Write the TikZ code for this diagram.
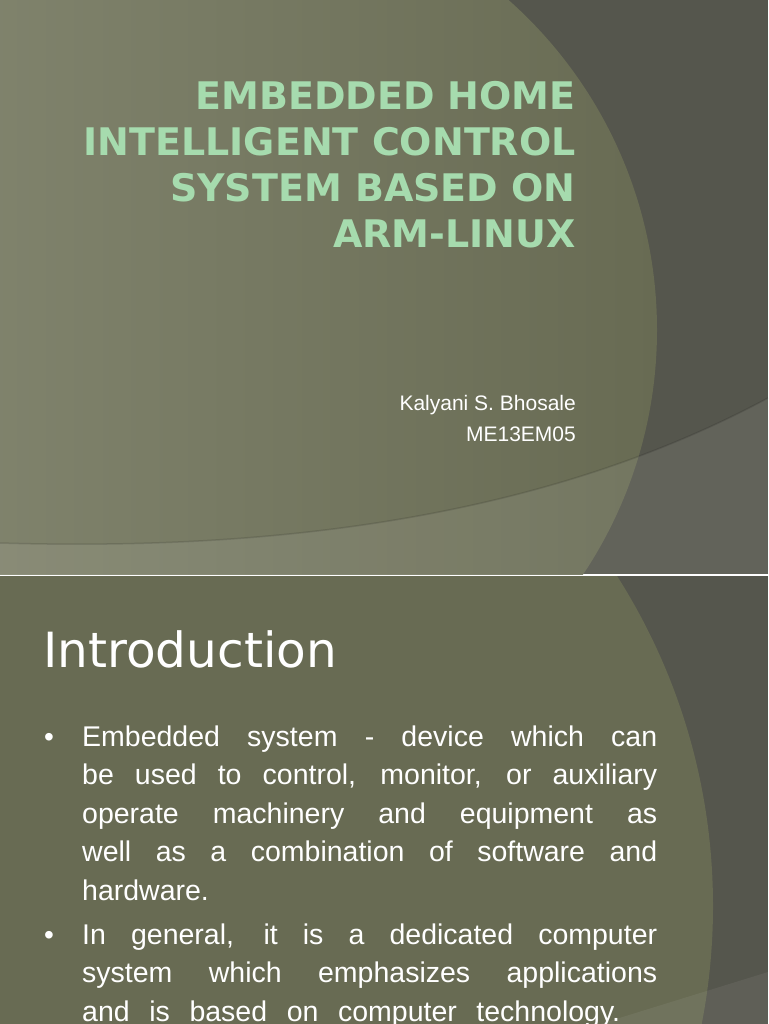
\documentclass[tikz,border=0pt]{standalone}
\usepackage{fontspec}
\setmainfont{Liberation Sans}
\newfontfamily\djv{DejaVu Sans}
\definecolor{darkbg}{HTML}{55564D}
\definecolor{olive}{HTML}{686B53}
\definecolor{oliveL}{HTML}{878A74}
\definecolor{titlegreen}{HTML}{A6DBAE}
\begin{document}
\begin{tikzpicture}[x=1pt,y=-1pt,
  txt/.style={text=white,inner sep=0pt},
  bul/.style={txt,anchor=base west,font=\fontsize{28.5}{38}\selectfont}]
\useasboundingbox (0,0) rectangle (768,1024);
% slide 1
\begin{scope}
\clip (0,0) rectangle (768,574);
\fill[darkbg] (0,0) rectangle (768,574);
\shade[left color=oliveL,right color=olive] (216,330) circle[radius=441];
\fill[white,opacity=0.08] (0,543) .. controls (300,552) and (560,510) .. (768,398) -- (768,574) -- (0,574) -- cycle;
\draw[black,opacity=0.12,line width=1.5] (0,543) .. controls (300,552) and (560,510) .. (768,398);
\end{scope}
\draw[white,opacity=0.12,line width=1.5] (0,574.5) -- (768,574.5);
% slide 2
\begin{scope}
\clip (0,576) rectangle (768,1024);
\fill[darkbg] (0,576) rectangle (768,1024);
\fill[olive] (98,906) circle[radius=615];
\fill[white,opacity=0.06] (768,972) -- (600,1024) -- (768,1024) -- cycle;
\end{scope}
% texts
\node[txt,anchor=north east,align=right,text=titlegreen,font=\djv\bfseries\fontsize{38}{46}\selectfont] (title) at (576,81)
 {EMBEDDED HOME\\INTELLIGENT CONTROL\\SYSTEM BASED ON\\ARM-LINUX};
\node[txt,anchor=north east,align=right,font=\fontsize{21}{31}\selectfont] (author) at (576,395) {Kalyani S. Bhosale\\ME13EM05};
\node[txt,anchor=base west,font=\djv\fontsize{48.5}{50}\selectfont] (intro) at (43,667) {Introduction};
\node[txt,anchor=base west,font=\fontsize{28}{28}\selectfont] (b1) at (44,746) {•};
\node[txt,anchor=base west,font=\fontsize{28}{28}\selectfont] (b2) at (44,944) {•};
\node[bul] (l1) at (82,746) {\makebox[575pt][s]{Embedded system - device which can}};
\node[bul] (l2) at (82,784.5) {\makebox[575pt][s]{be used to control, monitor, or auxiliary}};
\node[bul] (l3) at (82,823) {\makebox[575pt][s]{operate machinery and equipment as}};
\node[bul] (l4) at (82,861.5) {\makebox[575pt][s]{well as a combination of software and}};
\node[bul] (l5) at (82,900) {hardware.};
\node[bul] (l6) at (82,944) {\makebox[575pt][s]{In general, it is a dedicated computer}};
\node[bul] (l7) at (82,982.5) {\makebox[575pt][s]{system which emphasizes applications}};
\node[bul] (l8) at (82,1021) {\makebox[538pt][s]{and is based on computer technology.}};
\end{tikzpicture}
\end{document}
